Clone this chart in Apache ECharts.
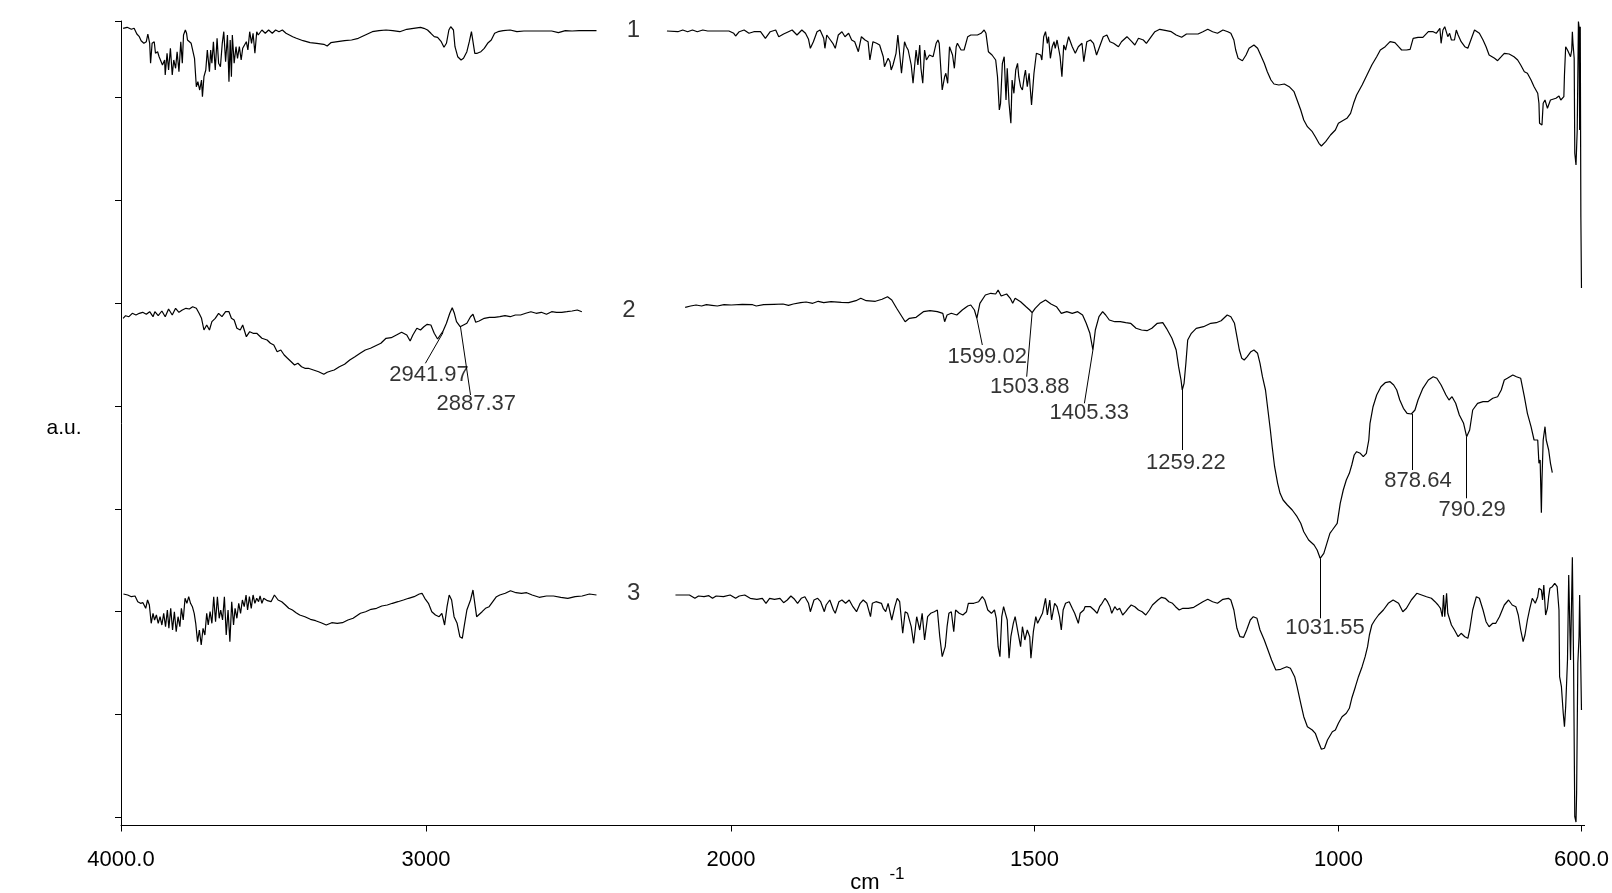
<!DOCTYPE html>
<html><head><meta charset="utf-8">
<script src="https://cdn.jsdelivr.net/npm/echarts@6/dist/echarts.min.js"></script>
<style>html,body{margin:0;padding:0;background:#fff}#c{width:1612px;height:893px}</style>
</head><body><div id="c"></div>
<script>
// wavenumber (cm-1), intensity (a.u.)
const trace1Left = [[3993,79.72],[3980,79.82],[3966,79.62],[3957,79.72],[3948,79.15],[3940,78.88],[3934,78.48],[3925,78.22],[3917,78.38],[3912,79.15],[3906,78.22],[3903,76.22],[3898,78.22],[3891,78.38],[3887,77.22],[3880,77.38],[3875,76.88],[3869,76.72],[3864,76.05],[3857,76.55],[3855,75.05],[3849,77.22],[3844,75.55],[3838,77.72],[3832,75.05],[3827,76.55],[3821,75.72],[3816,77.38],[3810,75.38],[3804,78.38],[3799,76.22],[3795,79.05],[3789,79.55],[3785,79.22],[3782,78.55],[3776,78.72],[3770,78.22],[3765,78.38],[3759,76.72],[3753,73.88],[3748,74.38],[3742,73.55],[3736,74.55],[3733,72.88],[3728,74.88],[3722,75.55],[3717,77.55],[3710,75.38],[3706,77.55],[3702,76.22],[3697,78.38],[3691,75.55],[3685,78.72],[3680,76.22],[3674,75.88],[3668,78.22],[3663,79.38],[3657,76.38],[3651,79.05],[3646,74.38],[3642,78.55],[3638,74.88],[3635,79.05],[3629,76.22],[3623,77.88],[3618,76.72],[3612,77.88],[3606,76.55],[3601,77.72],[3595,77.55],[3589,78.38],[3584,77.55],[3578,79.38],[3572,78.22],[3567,79.22],[3561,77.22],[3555,79.38],[3550,79.05],[3538,79.55],[3527,79.22],[3516,79.55],[3504,79.22],[3493,79.55],[3482,79.38],[3471,79.55],[3459,79.22],[3448,79.05],[3437,78.88],[3425,78.72],[3403,78.48],[3380,78.28],[3358,78.22],[3335,78.12],[3324,77.95],[3312,78.28],[3290,78.38],[3267,78.48],[3244,78.55],[3222,78.72],[3199,79.05],[3176,79.38],[3154,79.48],[3131,79.55],[3109,79.48],[3086,79.38],[3063,79.62],[3041,79.72],[3018,79.82],[3007,79.72],[2995,79.55],[2984,79.22],[2973,78.88],[2962,78.82],[2950,78.38],[2941,77.82],[2933,78.22],[2925,79.55],[2919,79.88],[2914,80.05],[2910,79.55],[2905,77.88],[2896,76.88],[2885,76.55],[2877,76.72],[2866,77.38],[2858,78.38],[2851,79.38],[2846,79.22],[2840,77.22],[2832,77.22],[2820,77.38],[2809,77.72],[2798,78.22],[2786,78.55],[2775,79.22],[2764,79.38],[2747,79.48],[2724,79.55],[2702,79.38],[2679,79.45],[2634,79.45],[2588,79.45],[2566,79.28],[2543,79.48],[2521,79.45],[2498,79.48],[2475,79.48],[2441,79.48]];

const trace1Right = [[2105,79.45],[2087,79.38],[2079,79.55],[2071,79.38],[2063,79.55],[2055,79.38],[2046,79.55],[2038,79.45],[2003,79.45],[1995,79.22],[1992,78.95],[1986,79.38],[1978,79.55],[1970,79.22],[1962,79.38],[1951,79.38],[1943,78.72],[1935,79.38],[1926,79.55],[1921,78.88],[1913,79.15],[1905,79.38],[1899,79.55],[1891,79.05],[1883,79.55],[1877,79.22],[1872,78.62],[1869,77.72],[1864,78.38],[1858,79.38],[1853,79.55],[1847,78.72],[1845,77.72],[1842,79.05],[1836,78.55],[1832,78.22],[1828,77.72],[1823,79.05],[1817,79.38],[1812,78.88],[1806,79.22],[1801,78.55],[1796,78.38],[1790,77.38],[1785,78.88],[1779,78.55],[1774,78.38],[1771,76.55],[1766,78.38],[1760,78.22],[1755,78.05],[1749,76.88],[1747,75.88],[1741,76.72],[1738,76.38],[1736,75.55],[1733,76.05],[1728,77.22],[1725,79.05],[1722,78.88],[1719,75.22],[1714,78.38],[1711,77.88],[1708,77.55],[1703,76.05],[1700,74.22],[1695,77.55],[1692,76.05],[1689,78.05],[1687,75.72],[1684,74.22],[1681,77.55],[1678,76.55],[1673,77.05],[1667,76.88],[1662,78.22],[1659,78.55],[1657,78.22],[1652,73.55],[1648,74.88],[1646,75.22],[1643,74.22],[1640,77.88],[1635,77.05],[1632,75.72],[1629,77.88],[1627,78.22],[1621,77.55],[1616,77.55],[1610,78.88],[1605,79.05],[1599,79.05],[1594,79.05],[1588,79.22],[1583,79.55],[1580,79.22],[1576,77.38],[1570,77.05],[1567,77.22],[1564,76.55],[1561,74.88],[1558,71.55],[1556,72.22],[1553,76.22],[1550,76.88],[1547,72.55],[1545,75.72],[1542,72.22],[1539,70.22],[1537,74.55],[1534,73.22],[1531,75.55],[1528,76.22],[1526,74.88],[1523,73.88],[1520,73.55],[1517,74.88],[1515,75.55],[1512,73.88],[1509,75.22],[1505,72.05],[1501,75.22],[1497,77.22],[1490,77.05],[1488,76.55],[1485,78.88],[1482,79.38],[1479,78.22],[1477,78.88],[1474,76.72],[1471,77.88],[1468,78.38],[1466,77.72],[1463,78.55],[1460,77.55],[1458,76.88],[1455,74.88],[1452,78.05],[1449,77.55],[1444,78.88],[1438,77.88],[1433,77.22],[1428,77.88],[1422,78.22],[1419,76.38],[1414,78.38],[1408,78.55],[1403,78.22],[1398,77.05],[1392,78.05],[1387,78.88],[1381,79.05],[1376,78.38],[1370,78.22],[1362,77.88],[1357,78.38],[1348,78.88],[1340,78.38],[1335,78.05],[1329,78.72],[1321,78.55],[1316,78.22],
[1308,78.88],[1302,79.38],[1294,79.62],[1283,79.48],[1275,79.38],[1267,79.05],[1258,78.82],[1250,79.15],[1239,79.15],[1231,79.15],[1223,79.38],[1215,79.62],[1207,79.38],[1199,79.22],[1190,79.55],[1182,79.38],[1177,79.22],[1172,78.55],[1169,77.55],[1165,76.72],[1158,76.48],[1152,77.05],[1147,77.72],[1139,78.05],[1133,77.72],[1128,77.05],[1122,76.22],[1117,75.38],[1111,74.55],[1106,74.15],[1098,74.05],[1089,74.15],[1081,73.88],[1073,73.38],[1068,72.55],[1062,71.55],[1057,70.55],[1051,69.88],[1043,69.38],[1038,68.88],[1032,68.22],[1028,67.95],[1021,68.38],[1013,69.05],[1005,69.55],[1000,70.22],[991,70.55],[986,70.72],[980,71.22],[975,72.22],[970,73.05],[961,74.05],[953,75.05],[945,76.05],[937,76.88],[931,77.55],[923,77.88],[915,78.38],[907,78.28],[901,77.88],[896,77.55],[888,77.55],[882,77.62],[877,78.72],[869,78.82],[861,78.82],[852,79.38],[844,79.38],[839,79.22],[833,79.72],[831,78.22],[828,79.55],[825,79.88],[822,79.72],[820,78.88],[817,79.22],[814,78.55],[809,78.55],[806,79.55],[803,79.05],[798,78.38],[792,77.88],[787,77.72],[781,78.72],[776,79.55],[768,79.22],[762,78.55],[757,77.88],[752,77.05],[743,76.72],[738,76.48],[732,76.88],[727,77.22],[719,77.15],[711,76.88],[705,76.55],[700,76.05],[694,75.38],[689,75.22],[683,74.55],[678,73.88],[672,73.22],[670,72.22],[669,70.22],[665,70.05],[663,72.22],[660,72.55],[656,71.72],[653,72.22],[651,72.55],[642,72.72],[637,72.95],[634,72.55],[629,72.88],[628,75.05],[626,77.88],[623,77.55],[621,77.38],[618,76.88],[616,77.55],[615,79.38],[614,78.22],[612,76.72],[611,67.22],[609,66.05],[607,69.55],[605,80.4],[604,79.88],[603,69.55],[602,79.88],[601,60.88],[600,53.75]];

const trace2Left = [[3993,50.72],[3985,50.98],[3974,50.88],[3963,51.22],[3951,51.05],[3940,51.22],[3929,51.32],[3917,51.12],[3906,51.38],[3895,50.88],[3889,51.38],[3878,50.98],[3866,51.45],[3855,50.88],[3844,51.65],[3832,51.05],[3821,51.72],[3810,51.32],[3799,51.55],[3787,51.72],[3776,51.65],[3765,51.88],[3753,51.72],[3744,51.22],[3736,50.72],[3728,49.55],[3719,50.05],[3710,49.55],[3702,50.38],[3691,50.72],[3680,51.22],[3669,50.88],[3657,51.38],[3646,51.38],[3638,50.72],[3629,50.55],[3620,49.72],[3609,49.55],[3601,50.05],[3589,48.88],[3578,49.38],[3567,49.22],[3555,49.22],[3538,48.72],[3521,48.55],[3510,48.22],[3499,48.05],[3488,47.38],[3476,47.55],[3465,47.05],[3454,46.72],[3442,46.38],[3431,46.05],[3420,46.22],[3408,45.88],[3397,45.72],[3386,45.72],[3369,45.55],[3352,45.38],[3335,45.12],[3324,45.32],[3312,45.45],[3301,45.55],[3284,45.88],[3267,46.12],[3250,46.55],[3233,46.88],[3216,47.22],[3199,47.55],[3182,47.72],[3165,47.98],[3148,48.22],[3131,48.72],[3114,48.78],[3097,49.05],[3080,49.32],[3063,49.05],[3052,48.45],[3043,49.05],[3030,49.72],[3018,49.55],[3007,49.88],[2996,50.12],[2984,50.05],[2973,49.22],[2962,48.65],[2953,49.05],[2945,49.38],[2933,50.22],[2922,51.22],[2914,51.78],[2907,51.22],[2900,50.38],[2888,49.88],[2877,50.05],[2866,50.22],[2854,50.88],[2846,51.12],[2837,50.32],[2826,50.45],[2809,50.72],[2792,50.82],[2775,50.82],[2758,50.88],[2741,50.98],[2724,50.88],[2707,51.05],[2690,51.05],[2673,51.22],[2656,51.38],[2639,51.22],[2622,51.32],[2605,51.12],[2588,51.38],[2572,51.32],[2555,51.32],[2538,51.38],[2521,51.45],[2504,51.55],[2489,51.38]];

const trace2Right = [[2075,51.82],[2066,51.95],[2057,52.05],[2048,51.95],[2040,52.08],[2031,52.02],[2022,51.95],[2011,52.08],[1999,52.05],[1981,52.12],[1964,52.08],[1958,51.95],[1946,52.08],[1929,52.12],[1914,52.15],[1905,52.02],[1897,52.15],[1885,52.28],[1876,52.35],[1865,52.22],[1856,52.42],[1847,52.28],[1835,52.38],[1818,52.32],[1806,52.28],[1794,52.48],[1786,52.72],[1777,52.48],[1762,52.42],[1751,52.62],[1742,52.88],[1735,52.55],[1727,51.72],[1720,51.05],[1713,50.38],[1706,50.72],[1695,50.82],[1683,51.38],[1672,51.48],[1660,51.38],[1651,51.22],[1648,50.38],[1644,51.05],[1637,51.22],[1628,51.05],[1619,51.55],[1610,51.95],[1605,52.05],[1599,51.55],[1595,50.72],[1590,52.22],[1581,53.05],[1572,53.22],[1564,53.15],[1560,53.55],[1555,52.95],[1546,53.15],[1540,52.72],[1536,52.22],[1532,52.72],[1523,52.38],[1514,51.88],[1508,51.55],[1504,51.28],[1499,51.72],[1491,52.22],[1482,52.55],[1473,52.15],[1464,51.88],[1456,51.22],[1447,51.38],[1438,51.22],[1429,51.38],[1421,51.05],[1415,50.22],[1409,49.22],[1404,47.55],[1400,49.55],[1394,50.88],[1388,51.38],[1383,51.05],[1377,50.55],[1368,50.38],[1359,50.38],[1350,50.28],[1342,50.22],[1333,49.72],[1324,49.55],[1315,49.48],[1307,49.72],[1298,50.22],[1289,50.28],[1283,49.72],[1274,48.72],[1267,47.55],[1263,45.88],[1259,44.55],[1257,43.55],[1254,44.22],[1251,46.22],[1248,48.55],[1242,49.22],[1234,49.72],[1222,49.88],
[1210,50.22],[1201,50.28],[1193,50.48],[1183,51.05],[1177,50.88],[1171,50.22],[1167,48.88],[1163,47.55],[1159,46.72],[1155,46.55],[1150,46.88],[1144,47.38],[1139,47.55],[1133,47.22],[1129,46.22],[1125,44.88],[1120,43.55],[1116,41.55],[1112,39.55],[1109,37.88],[1105,35.88],[1100,34.22],[1096,33.22],[1091,32.55],[1084,32.05],[1076,31.55],[1068,30.88],[1062,30.22],[1057,29.38],[1049,28.55],[1040,28.05],[1035,27.55],[1030,26.72],[1024,27.22],[1019,28.22],[1014,29.22],[1010,29.55],[1007,29.38],[1002,30.22],[997,32.22],[992,33.55],[987,34.55],[982,35.22],[978,36.05],[974,37.05],[970,37.38],[964,37.22],[959,36.88],[954,37.22],[950,38.55],[948,40.22],[943,41.88],[937,43.05],[930,43.88],[923,44.28],[915,44.38],[909,44.05],[904,43.55],[899,42.55],[893,41.72],[887,41.22],[880,41.15],[874,41.55],[869,42.55],[861,43.72],[852,44.55],[844,44.88],[838,44.72],[831,44.05],[823,43.05],[818,42.55],[813,42.88],[807,42.22],[801,41.05],[794,40.22],[789,38.88],[784,39.55],[779,41.55],[771,42.22],[762,42.38],[754,42.38],[746,42.72],[738,42.88],[732,43.55],[727,44.55],[722,44.72],[713,45.05],[707,44.88],[700,44.72],[694,42.88],[689,41.22],[683,39.88],[678,38.55],[675,38.38],[672,38.55],[670,36.22],[668,36.55],[666,31.28],[665,34.55],[663,38.55],[660,39.88],[658,38.55],[654,37.55],[651,36.22],[648,35.28]];

const trace3Left = [[3992,23.15],[3978,23.05],[3966,22.88],[3954,22.95],[3945,22.38],[3936,22.22],[3928,22.28],[3919,21.72],[3913,22.55],[3907,22.05],[3901,20.22],[3895,21.22],[3890,20.55],[3884,21.05],[3878,20.22],[3872,20.88],[3866,20.05],[3860,21.22],[3854,19.88],[3848,21.55],[3843,19.72],[3837,21.72],[3831,19.55],[3825,21.38],[3819,19.38],[3813,20.88],[3807,19.88],[3802,21.72],[3796,20.55],[3790,22.72],[3784,22.22],[3778,22.88],[3772,22.22],[3766,21.88],[3760,21.22],[3755,20.22],[3749,18.38],[3743,19.55],[3737,18.05],[3731,19.72],[3725,19.05],[3719,21.22],[3714,20.05],[3708,21.38],[3702,20.22],[3696,22.88],[3690,20.38],[3684,22.88],[3678,20.72],[3673,21.55],[3667,20.55],[3661,22.88],[3655,19.05],[3649,21.55],[3643,18.38],[3637,22.38],[3631,20.05],[3626,21.72],[3620,20.72],[3614,22.22],[3608,21.22],[3602,22.55],[3596,21.88],[3590,23.05],[3585,21.55],[3579,22.88],[3573,21.72],[3567,23.05],[3561,22.22],[3555,22.72],[3549,22.38],[3544,22.95],[3538,22.22],[3532,22.72],[3520,22.48],[3508,22.38],[3497,23.05],[3485,22.55],[3473,22.38],[3461,22.05],[3450,21.72],[3438,21.55],[3426,21.28],[3414,21.05],[3397,20.88],[3379,20.62],[3362,20.48],[3344,20.28],[3327,20.05],[3309,20.28],[3291,20.22],[3274,20.28],[3256,20.55],[3239,20.72],[3215,21.22],[3198,21.38],[3180,21.62],[3162,21.72],[3145,21.95],[3127,22.05],[3110,22.22],[3092,22.38],[3074,22.55],[3057,22.72],[3039,22.88],[3022,23.15],[3013,23.22],[3004,22.72],[2992,22.22],[2981,21.38],[2969,21.05],[2957,20.88],[2948,21.22],[2939,20.05],[2931,21.88],[2924,23.05],[2916,22.55],[2908,20.88],[2898,20.22],[2889,18.88],[2881,18.72],[2875,19.88],[2866,21.55],[2854,22.55],[2846,23.55],[2840,22.22],[2834,20.88],[2828,20.72],[2816,21.38],[2805,21.72],[2793,21.88],[2781,22.38],[2769,22.88],[2758,23.05],[2740,23.22],[2723,23.48],[2705,23.28],[2687,23.22],[2670,23.28],[2652,23.05],[2629,22.82],[2605,22.95],[2582,22.95],[2558,22.82],[2535,22.72],[2511,22.88],[2488,22.95],[2464,23.15],[2441,23.05]];

const trace3Right = [[2091,23.05],[2068,23.05],[2059,22.72],[2053,22.95],[2044,22.88],[2036,22.98],[2030,22.72],[2024,22.95],[2012,22.88],[2001,23.05],[1992,22.72],[1986,22.95],[1977,23.05],[1968,22.72],[1957,22.62],[1948,22.72],[1942,22.22],[1936,22.72],[1928,22.62],[1919,22.72],[1913,22.28],[1907,22.55],[1901,22.95],[1895,22.62],[1890,22.22],[1884,22.72],[1878,22.88],[1872,22.22],[1869,21.38],[1863,22.55],[1857,22.72],[1852,22.38],[1846,21.38],[1843,22.05],[1837,22.55],[1831,21.55],[1828,21.22],[1822,22.38],[1817,22.55],[1811,22.22],[1805,22.55],[1799,21.88],[1793,21.38],[1787,22.22],[1782,22.55],[1776,22.22],[1770,20.88],[1767,22.22],[1761,22.38],[1758,22.55],[1752,22.22],[1749,21.72],[1745,21.38],[1741,22.22],[1735,20.55],[1730,21.88],[1726,22.72],[1722,22.38],[1717,19.22],[1713,21.38],[1709,21.22],[1703,19.88],[1699,18.22],[1694,20.88],[1689,19.55],[1685,21.22],[1681,18.55],[1676,20.88],[1671,21.22],[1665,21.38],[1660,21.55],[1656,18.88],[1652,16.88],[1647,17.88],[1644,19.88],[1641,21.22],[1637,21.38],[1633,19.38],[1630,21.55],[1624,21.22],[1618,21.05],[1612,21.38],[1609,22.22],[1600,22.22],[1592,22.38],[1586,22.88],[1582,22.55],[1577,21.55],[1571,21.22],[1566,21.55],[1563,20.72],[1560,17.88],[1557,16.88],[1554,20.88],[1551,21.88],[1548,21.22],[1545,20.55],[1542,16.72],[1539,18.88],[1535,20.22],[1532,20.88],[1527,19.22],[1523,17.88],[1520,19.88],[1516,18.55],[1512,19.55],[1508,18.88],[1506,16.72],[1502,19.38],[1498,20.88],[1495,20.22],[1491,20.72],[1487,21.22],[1482,22.72],[1479,21.05],[1475,22.55],[1472,20.55],[1467,22.22],[1463,21.88],[1459,20.88],[1456,19.55],[1453,21.55],[1449,22.22],[1443,22.38],[1438,21.72],[1434,21.22],[1431,20.72],[1428,20.22],[1425,21.22],[1419,21.55],[1417,21.88],[1414,22.05],[1408,21.88],[1402,21.55],[1397,21.22],[1393,21.88],[1389,22.22],[1384,22.72],[1380,22.38],[1376,21.88],[1373,21.22],[1368,21.88],[1364,21.55],[1360,21.72],[1355,21.05],[1350,21.38],[1346,21.72],[1341,22.05],[1335,21.88],[1329,21.55],[1323,21.38],[1317,21.05],[1311,21.55],[1306,22.05],[1297,22.55],[1291,22.82],[1285,22.72],[1279,22.38],[1273,22.22],[1268,21.88],[1262,21.55],[1256,21.72],[1247,21.72],[1238,21.82],
[1223,22.38],[1215,22.62],[1207,22.38],[1199,22.22],[1190,22.62],[1181,22.72],[1177,22.55],[1172,21.55],[1167,19.72],[1162,18.88],[1156,18.82],[1151,19.55],[1145,20.55],[1140,20.88],[1134,20.72],[1129,19.55],[1122,18.55],[1117,17.72],[1110,16.55],[1103,15.55],[1095,15.62],[1085,15.88],[1079,15.72],[1072,14.88],[1068,13.88],[1062,12.22],[1057,10.88],[1051,9.88],[1043,9.55],[1038,9.22],[1034,8.55],[1028,7.62],[1023,7.72],[1018,8.55],[1010,9.38],[1005,9.55],[1000,10.22],[994,10.88],[987,11.22],[982,11.72],[978,12.72],[972,13.88],[967,14.88],[961,15.88],[956,16.88],[952,17.88],[949,19.05],[945,20.05],[940,20.55],[934,21.05],[926,21.55],[918,22.22],[910,22.55],[901,22.22],[894,21.38],[888,21.72],[880,22.55],[871,23.22],[863,23.05],[855,22.88],[847,22.72],[841,22.38],[836,22.05],[832,21.72],[829,20.88],[827,23.05],[825,20.88],[822,23.22],[820,21.22],[814,20.05],[809,19.55],[803,18.88],[798,19.22],[792,18.88],[787,18.72],[784,19.55],[779,21.55],[773,22.88],[768,22.72],[762,21.55],[757,20.38],[752,19.88],[746,20.22],[741,20.22],[735,20.88],[727,22.05],[720,22.55],[714,22.05],[708,21.88],[704,21.05],[700,19.55],[696,18.38],[693,19.05],[689,20.55],[685,21.72],[681,22.72],[676,22.22],[672,22.88],[670,23.72],[666,23.55],[664,22.55],[662,24.05],[659,21.05],[656,21.72],[654,22.88],[652,23.72],[648,23.88],[644,24.22],[640,23.88],[637,21.55],[636,14.88],[633,13.88],[630,11.22],[628,9.88],[626,11.88],[623,16.55],[621,25.05],[618,16.55],[615,26.82],[613,16.22],[611,0.88],[609,0.35],[608,3.22],[606,16.22],[604,18.88],[603,23.05],[601,22.88],[600,11.55]];

// axis ticks
const leftTicks = [4000, 3000, 2000];
const rightTicks = [1500, 1000, 600];
const yTicks = [0.85, 11.15, 21.4, 31.65, 41.95, 52.25, 62.5, 72.8, 80.45];

// peak annotations: [wavenumber, a.u., text]
const leftPeakLabels = [[2990, 45.1, '2941.97'], [2835, 42.2, '2887.37']];
const rightPeakLabels = [[1578, 46.82, '1599.02'], [1508, 43.82, '1503.88'], [1410, 41.28, '1405.33'], [1251, 36.28, '1259.22'], [1022, 19.75, '1031.55'], [869, 34.45, '878.64'], [780, 31.55, '790.29']];
const leftLeaders = [[[2944, 49.3], [3002, 46.22]], [[2887, 49.88], [2854, 43.05]]];
const rightLeaders = [[[1595, 50.72], [1586, 48.05]], [[1504, 51.28], [1513, 44.88]], [[1404, 47.55], [1418, 42.22]], [[1257, 43.55], [1257, 37.55]], [[1030, 26.72], [1030, 20.72]], [[879, 41.15], [879, 35.55]], [[789, 38.88], [789, 32.72]]];
const traceLabels = [[2320, 79.48, '1'], [2335, 51.55, '2'], [2319, 23.22, '3']];

const FONT = 'Liberation Sans';
const chart = echarts.init(document.getElementById('c'), null, {renderer: 'canvas'});
const lineStyle = {color: '#000', width: 1.2};
function traceSeries(data, idx) {
  return {type: 'line', data: data, xAxisIndex: idx, yAxisIndex: idx, showSymbol: false, symbol: 'none',
    lineStyle: lineStyle, silent: true, animation: false, z: 3};
}
function labelSeries(data, idx, size) {
  return {type: 'scatter', data: data, xAxisIndex: idx, yAxisIndex: idx, symbolSize: 1,
    itemStyle: {color: 'rgba(0,0,0,0)'}, silent: true, animation: false, z: 5,
    label: {show: true, position: 'inside', formatter: p => p.data[2], color: '#000', fontFamily: FONT, fontSize: size}};
}
function leaders(list) {
  return {silent: true, symbol: ['none', 'none'], animation: false,
    lineStyle: {color: '#000', width: 1, type: 'solid'}, label: {show: false},
    emphasis: {disabled: true},
    data: list.map(l => [{coord: l[0]}, {coord: l[1]}])};
}
const s1 = traceSeries(trace1Left, 0), s2 = traceSeries(trace1Right, 1);
const s3 = traceSeries(trace2Left, 0), s4 = traceSeries(trace2Right, 1);
const s5 = traceSeries(trace3Left, 0), s6 = traceSeries(trace3Right, 1);
s3.markLine = leaders(leftLeaders);
s4.markLine = leaders(rightLeaders);

const axisCommon = {
  type: 'value', inverse: true,
  axisLine: {show: true, onZero: false, lineStyle: {color: '#000', width: 1}},
  axisTick: {show: true, inside: false, length: 6, lineStyle: {color: '#000', width: 1}},
  splitLine: {show: false}
};

// right panel: 2x expanded scale (0.61 px per cm-1), its data runs a little past 2000
chart.setOption({
  animation: false,
  backgroundColor: '#fff',
  grid: [
    {left: 121, top: 21, width: 610, height: 804.5, containLabel: false},
    {left: 663.9, top: 21, width: 921.1, height: 804.5, containLabel: false}
  ],
  xAxis: [
    Object.assign({}, axisCommon, {gridIndex: 0, min: 2000, max: 4000, interval: 1000,
      axisLabel: {show: true, margin: 23, color: '#000', fontFamily: FONT, fontSize: 22,
        formatter: v => v === 4000 ? '4000.0' : String(v)}}),
    Object.assign({}, axisCommon, {gridIndex: 1, min: 600, max: 2110,
      axisLine: {show: false},
      axisTick: {show: true, inside: false, length: 6, lineStyle: {color: '#000', width: 1}, customValues: rightTicks},
      axisLabel: {show: true, margin: 23, color: '#000', fontFamily: FONT, fontSize: 22, customValues: rightTicks,
        formatter: v => v === 600 ? '600.0' : String(v)}})
  ],
  yAxis: [
    {type: 'value', gridIndex: 0, min: 0, max: 80.45,
      axisLine: {show: true, onZero: false, lineStyle: {color: '#000', width: 1}},
      axisTick: {show: true, inside: false, length: 6, lineStyle: {color: '#000', width: 1}, customValues: yTicks},
      axisLabel: {show: false}, splitLine: {show: false}},
    {type: 'value', gridIndex: 1, min: 0, max: 80.45, show: false, splitLine: {show: false}}
  ],
  graphic: [
    {type: 'line', shape: {x1: 731, y1: 825.5, x2: 1585, y2: 825.5}, style: {stroke: '#000', lineWidth: 1}, silent: true},
    {type: 'text', x: 64, y: 428, style: {text: 'a.u.', fill: '#000', font: '21px "Liberation Sans"', textAlign: 'center', textVerticalAlign: 'middle'}},
    {type: 'text', x: 865, y: 883, style: {text: 'cm', fill: '#000', font: '22px "Liberation Sans"', textAlign: 'center', textVerticalAlign: 'middle'}},
    {type: 'text', x: 897, y: 874, style: {text: '-1', fill: '#000', font: '17px "Liberation Sans"', textAlign: 'center', textVerticalAlign: 'middle'}}
  ],
  series: [s1, s2, s3, s4, s5, s6,
    labelSeries(leftPeakLabels, 0, 22), labelSeries(rightPeakLabels, 1, 22),
    labelSeries(traceLabels, 0, 24)]
});
</script>
</body></html>
